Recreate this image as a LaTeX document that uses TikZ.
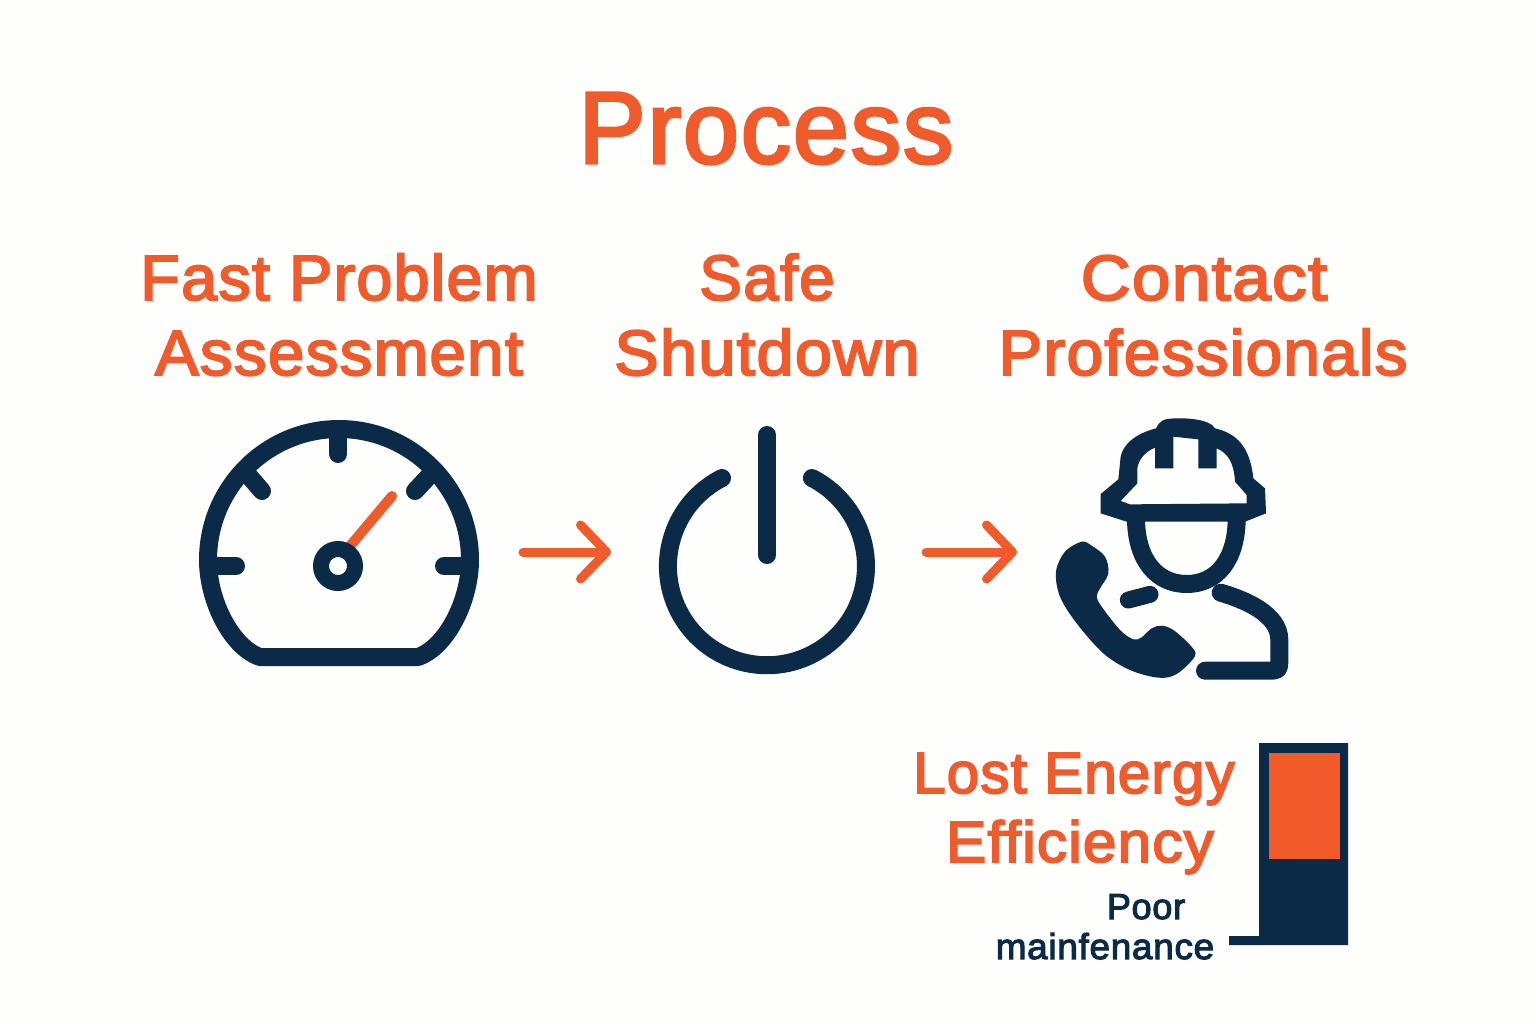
\documentclass[tikz,border=0pt]{standalone}
\usepackage{fontspec}
\setmainfont{Liberation Sans}
\usetikzlibrary{arrows.meta}
\definecolor{navy}{HTML}{0A2A47}
\definecolor{accent}{HTML}{F15A2B}
\definecolor{paper}{HTML}{FEFEFD}
\newfontfamily\medfont[FakeBold=3,LetterSpace=2]{Liberation Sans}
\newcommand{\widen}[2]{\scalebox{#1}[1]{#2}}
\tikzset{
  x=0.5pt,y=-0.5pt,
  heading/.style={text=accent,inner sep=0pt,anchor=base,font=\medfont\fontsize{32}{32}\selectfont},
  title/.style={text=accent,inner sep=0pt,anchor=base,font=\medfont\fontsize{51}{51}\selectfont},
  sub/.style={text=accent,inner sep=0pt,anchor=base,font=\medfont\fontsize{29}{29}\selectfont},
  small/.style={text=navy,inner sep=0pt,anchor=base,font=\medfont\fontsize{18}{18}\selectfont},
  icon/.style={draw=navy,line width=9pt,line cap=round,line join=round},
  flow/.style={draw=accent,line width=4.5pt,line cap=round,-{Straight Barb[length=13pt,width=27pt,round]}},
  zoomed/.style={x=0.166667pt,y=-0.166667pt},
}
\begin{document}
\begin{tikzpicture}
\useasboundingbox (0,0) rectangle (1536,1024);
\fill[paper] (0,0) rectangle (1536,1024);
% texts
\node[title] (ttl) at (766,163) {\widen{0.984}{Process}};
\node[heading] (h1a) at (339,300) {\widen{1.01}{Fast Problem}};
\node[heading] (h1b) at (339,375) {\widen{1.022}{Assessment}};
\node[heading] (h2a) at (767,300) {Safe};
\node[heading] (h2b) at (767,375) {\widen{1.04}{Shutdown}};
\node[heading] (h3a) at (1204,300) {\widen{1.08}{Contact}};
\node[heading] (h3b) at (1203,375) {\widen{1.024}{Professionals}};
\node[sub] (l1) at (1074,793) {\widen{1.005}{Lost Energy}};
\node[sub] (l2) at (1080,862) {\widen{1.04}{Efficiency}};
\node[small] (p1) at (1146,919) {Poor};
\node[small] (p2) at (1105,959) {\widen{1.024}{mainfenance}};
% gauge
\draw[icon] (208,560) arc[start angle=180,end angle=360,radius=131]
  .. controls (470,600) and (447,647) .. (418,657) -- (260,657)
  .. controls (231,647) and (208,600) .. (208,560) -- cycle;
\draw[icon] (338,434) -- (338,454);
\draw[icon] (214,566) -- (236,566);
\draw[icon] (464,566) -- (444,566);
\draw[icon] (249,476) -- (262,491);
\draw[icon] (429,476) -- (415,491);
\draw[draw=accent,line width=5pt,line cap=round] (350,546) -- (392,496);
\draw[draw=navy,line width=8pt] (338,566) circle[radius=17];
% flow
\coordinate (a1) at (523,552); \coordinate (b1) at (611,552);
\coordinate (a2) at (926,552); \coordinate (b2) at (1017,552);
\draw[flow] (a1) -- (b1);
\draw[flow] (a2) -- (b2);
% power
\draw[icon] (722,478) arc[start angle=243,end angle=-63,radius=99];
\draw[icon] (767,435) -- (767,555);
% worker
\begin{scope}[shift={(1030,400)},zoomed]
\fill[navy,even odd rule]
  (212,340) -- (212,282) -- (265,238) -- (272,170) .. controls (280,130) and (320,100) .. (378,85)
  .. controls (390,62) and (400,58) .. (420,56) .. controls (470,52) and (540,58) .. (555,85)
  .. controls (620,100) and (660,140) .. (670,235) -- (705,265) -- (708,340)
  -- (645,365) -- (290,365) -- cycle
  (272,303) -- (322,250) -- (322,205) .. controls (325,180) and (345,155) .. (375,143) -- (375,205) -- (430,205) -- (430,110)
  -- (505,118) -- (505,205) -- (560,205) -- (560,145) .. controls (595,160) and (612,190) .. (615,245)
  -- (650,285) -- (650,310) -- (300,313) -- cycle;
\draw[icon,line cap=butt] (318,360) .. controls (320,480) and (380,552) .. (470,552)
  .. controls (560,552) and (618,480) .. (620,360);
\draw[icon,line width=8.5pt] (295,600) -- (360,583);
\draw[icon] (572,578) .. controls (640,598) and (748,640) .. (748,720)
  -- (748,785) .. controls (748,805) and (745,812) .. (725,812) -- (525,812);
\fill[navy] plot[smooth cycle,tension=0.55] coordinates {
  (155,425) (105,455) (78,515) (90,590) (140,670) (220,760) (300,810) (385,833)
  (440,822) (495,768) (480,735) (430,690) (395,677) (365,685) (335,712) (310,718)
  (270,690) (215,620) (200,590) (210,565) (235,520) (225,470) (185,437)};
\end{scope}
% door
\fill[navy] (1259,743) -- (1348,743) -- (1348,945) -- (1229,945) -- (1229,936) -- (1259,936) -- cycle;
\fill[accent] (1269,753) rectangle (1340,859);
\end{tikzpicture}
\end{document}
